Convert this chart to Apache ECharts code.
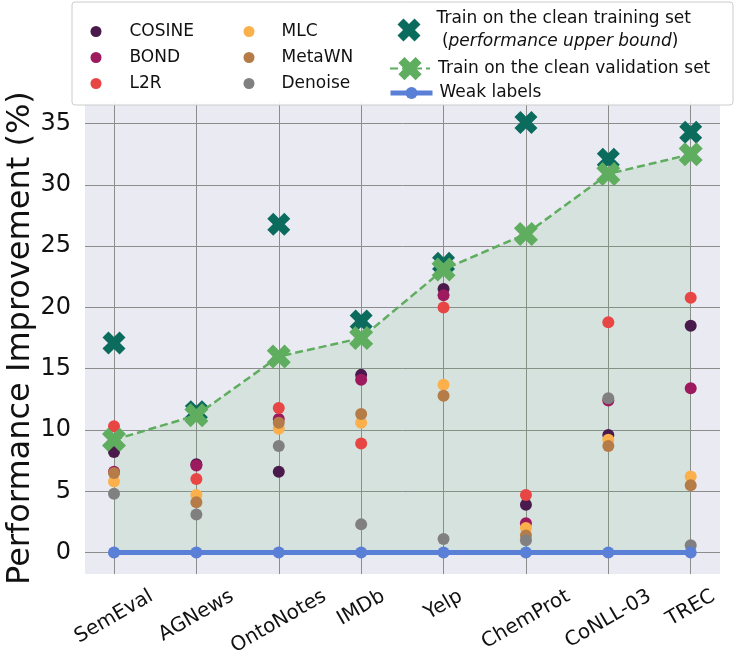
<!DOCTYPE html>
<html>
<head>
<meta charset="utf-8">
<script src="https://cdn.jsdelivr.net/npm/echarts@6/dist/echarts.min.js"></script>
<style>
  html, body { margin: 0; padding: 0; background: #ffffff; }
  #chart { width: 736px; height: 659px; }
</style>
</head>
<body>
<div id="chart"></div>
<script>
// datasets on the x axis
const categories = ["SemEval", "AGNews", "OntoNotes", "IMDb", "Yelp", "ChemProt", "CoNLL-03", "TREC"];

// improvement (%) per method
const cosine = [8.2, 7.2, 6.6, 14.5, 21.5, 3.9, 9.6, 18.5];
const bond = [6.6, 7.1, 10.9, 14.1, 21.0, 2.4, 12.4, 13.4];
const l2r = [10.3, 6.0, 11.8, 8.9, 20.0, 4.7, 18.8, 20.8];
const mlc = [5.8, 4.7, 10.1, 10.6, 13.7, 2.0, 9.2, 6.2];
const metawn = [6.5, 4.1, 10.6, 11.3, 12.8, 1.4, 8.7, 5.5];
const denoise = [4.8, 3.1, 8.7, 2.3, 1.1, 1.0, 12.6, 0.6];
const cleanTrain = [17.1, 11.5, 26.8, 18.9, 23.6, 35.1, 32.1, 34.3];
const cleanValid = [9.2, 11.2, 16.0, 17.5, 23.1, 26.0, 30.9, 32.5];
const weakLabels = [0, 0, 0, 0, 0, 0, 0, 0];

const TRAIN_NAME = "Train on the clean training set";
const VALID_NAME = "Train on the clean validation set";
const WEAK_NAME = "Weak labels";
const FONT = "DejaVu Sans";
const X_PATH = "path://M2.6,0 L5,2.4 L7.4,0 L10,2.6 L7.6,5 L10,7.4 L7.4,10 L5,7.6 L2.6,10 L0,7.4 L2.4,5 L0,2.6 Z";

// plot box (matplotlib style padding around the data)
const Y_MIN = -1.75, Y_MAX = 36.85;
const TOP = 101, BOTTOM = 85;
const pxPerUnit = (659 - TOP - BOTTOM) / (Y_MAX - Y_MIN);
// tick axis spans -5..40 so ticks start on a multiple of 5
const tickTop = TOP - (40 - Y_MAX) * pxPerUnit;
const tickBottom = BOTTOM - (Y_MIN + 5) * pxPerUnit;

// rotated x labels hang from the top of their box (like matplotlib),
// so longer names sit lower
const measure = document.createElement("canvas").getContext("2d");
measure.font = "20px '" + FONT + "'";

function dots(name, arr, color) {
  return {
    name: name,
    type: "scatter",
    xAxisIndex: 1, yAxisIndex: 1,
    data: arr,
    symbol: "circle",
    symbolSize: 12,
    itemStyle: { color: color, opacity: 1 },
    z: 2,
    silent: true
  };
}

const myChart = echarts.init(document.getElementById("chart"), null, { renderer: "canvas" });

const legendText = { fontFamily: FONT, fontSize: 17, color: "#111111", lineHeight: 20 };
const gridLine = { color: "#8c8c8c", width: 1 };

const option = {
  animation: false,
  backgroundColor: "#ffffff",
  grid: [
    // background only
    { left: 85, right: 16, top: TOP, bottom: BOTTOM, show: true, backgroundColor: "#eaeaf2", borderWidth: 0, outerBoundsMode: "none" },
    // data + vertical grid lines
    { left: 114, right: 45.3, top: TOP, bottom: BOTTOM, outerBoundsMode: "none" },
    // y ticks + horizontal grid lines
    { left: 85, right: 16, top: tickTop, bottom: tickBottom, outerBoundsMode: "none" }
  ],
  xAxis: [
    { gridIndex: 0, type: "value", show: false },
    {
      gridIndex: 1,
      type: "category",
      data: categories,
      boundaryGap: false,
      axisLine: { show: false },
      axisTick: { show: false },
      axisLabel: { show: false },
      splitLine: { show: true, lineStyle: gridLine }
    },
    { gridIndex: 2, type: "value", show: false }
  ],
  yAxis: [
    { gridIndex: 0, type: "value", show: false },
    { gridIndex: 1, type: "value", min: Y_MIN, max: Y_MAX, show: false },
    {
      gridIndex: 2,
      type: "value",
      min: -5, max: 40, interval: 5,
      name: "Performance Improvement (%)",
      nameLocation: "middle",
      nameGap: 48,
      nameMoveOverlap: false,
      nameTextStyle: { fontFamily: FONT, fontSize: 32, color: "#111111" },
      axisLine: { show: false },
      axisTick: { show: false },
      splitLine: { show: true, showMinLine: false, showMaxLine: false, lineStyle: gridLine },
      axisLabel: {
        fontFamily: FONT, fontSize: 24, color: "#111111", margin: 14,
        showMinLabel: false, showMaxLabel: false
      }
    }
  ],
  graphic: [{
    type: "rect",
    z: 10,
    shape: { x: 72, y: 2, width: 661, height: 103, r: 3 },
    style: { fill: "rgba(255,255,255,0.92)", stroke: "#cccccc", lineWidth: 1 }
  }],
  legend: [
    {
      data: [{ name: "COSINE", icon: "circle" }, { name: "BOND", icon: "circle" }, { name: "L2R", icon: "circle" }],
      orient: "vertical", padding: 0,
      left: 90.5, top: 21.5, itemWidth: 11, itemHeight: 11, itemGap: 6,
      textStyle: Object.assign({}, legendText, { padding: [0, 0, 0, 23] }), z: 20
    },
    {
      data: [{ name: "MLC", icon: "circle" }, { name: "MetaWN", icon: "circle" }, { name: "Denoise", icon: "circle" }],
      orient: "vertical", padding: 0,
      left: 243.5, top: 21.5, itemWidth: 11, itemHeight: 11, itemGap: 6,
      textStyle: Object.assign({}, legendText, { padding: [0, 0, 0, 22] }), z: 20
    },
    {
      data: [TRAIN_NAME], orient: "vertical", padding: 0,
      left: 397.5, top: 7, itemWidth: 23, itemHeight: 23,
      textStyle: {
        fontFamily: FONT, fontSize: 17, color: "#111111", lineHeight: 23, padding: [0, 0, 0, 11],
        rich: { i: { fontFamily: FONT, fontSize: 17, fontStyle: "italic", color: "#111111", lineHeight: 23 } }
      },
      formatter: () => TRAIN_NAME + "\n ({i|performance upper bound})",
      z: 20
    },
    {
      data: [VALID_NAME], orient: "vertical", padding: 0,
      left: 389, top: 57, itemWidth: 40, itemHeight: 29,
      textStyle: Object.assign({}, legendText, { padding: [0, 0, 0, 3] }), z: 20
    },
    {
      data: [WEAK_NAME], orient: "vertical", padding: 0,
      left: 388, top: 83, itemWidth: 42, itemHeight: 15,
      lineStyle: { width: 5 },
      textStyle: Object.assign({}, legendText, { padding: [0, 0, 0, 2] }), z: 20
    }
  ],
  series: [
    {
      name: "fill",
      type: "line",
      xAxisIndex: 1, yAxisIndex: 1,
      data: cleanValid,
      showSymbol: false,
      lineStyle: { width: 0, opacity: 0 },
      areaStyle: { color: "rgba(95,174,98,0.2)" },
      z: 1,
      silent: true
    },
    dots("COSINE", cosine, "#4a1a4c"),
    dots("BOND", bond, "#9e1a5e"),
    dots("L2R", l2r, "#e84545"),
    dots("MLC", mlc, "#fbb04c"),
    dots("MetaWN", metawn, "#b57c47"),
    dots("Denoise", denoise, "#808080"),
    {
      name: TRAIN_NAME,
      type: "scatter",
      xAxisIndex: 1, yAxisIndex: 1,
      data: cleanTrain,
      symbol: X_PATH,
      symbolSize: 23,
      itemStyle: { color: "#0b6b5c", opacity: 1 },
      z: 3,
      silent: true
    },
    {
      name: VALID_NAME,
      type: "line",
      xAxisIndex: 1, yAxisIndex: 1,
      data: cleanValid,
      symbol: X_PATH,
      symbolSize: 24,
      showAllSymbol: true,
      itemStyle: { color: "#5fad5f", opacity: 1 },
      lineStyle: { color: "#5fad5f", width: 2.5, type: [8, 4] },
      z: 4,
      silent: true
    },
    {
      name: WEAK_NAME,
      type: "line",
      xAxisIndex: 1, yAxisIndex: 1,
      data: weakLabels,
      symbol: "circle",
      symbolSize: 12,
      showAllSymbol: true,
      itemStyle: { color: "#5a7fd6", opacity: 1 },
      lineStyle: { color: "#5a7fd6", width: 5 },
      z: 5,
      silent: true
    },
    {
      // rotated category labels under the plot
      name: "xlabels",
      type: "custom",
      xAxisIndex: 1, yAxisIndex: 1,
      data: categories.map((c, i) => [i, Y_MIN]),
      clip: false,
      silent: true,
      renderItem: (params, api) => {
        const i = api.value(0);
        const p = api.coord([i, Y_MIN]);
        const name = categories[i];
        const drop = measure.measureText(name).width * 0.25;
        return {
          type: "text",
          x: p[0],
          y: p[1] + 21 + drop,
          rotation: Math.PI / 6,
          style: {
            text: name,
            font: "20px '" + FONT + "'",
            fill: "#111111",
            align: "center",
            verticalAlign: "middle"
          }
        };
      }
    }
  ]
};

myChart.setOption(option);
</script>
</body>
</html>
